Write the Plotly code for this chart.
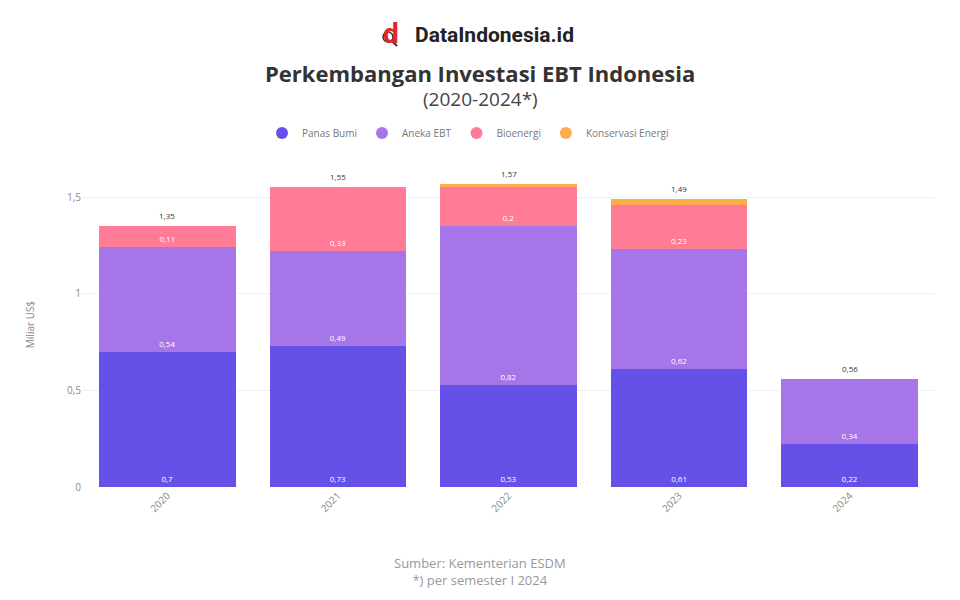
import plotly.graph_objects as go

years = ["2020", "2021", "2022", "2023", "2024"]
panas_bumi = [0.70, 0.73, 0.53, 0.61, 0.22]
aneka_ebt = [0.54, 0.49, 0.82, 0.62, 0.34]
bioenergi = [0.11, 0.33, 0.20, 0.23, 0.0]
konservasi = [0.0, 0.0, 0.02, 0.03, 0.0]
totals = [1.35, 1.55, 1.57, 1.49, 0.56]
tick_vals = [0, 0.5, 1, 1.5]
tick_text = ["0", "0,5", "1", "1,5"]

def fmt(v):
    if v <= 0.05:
        return ""
    s = f"{v:.2f}".rstrip("0").rstrip(".")
    return s.replace(".", ",")

series = [
    ("Panas Bumi", panas_bumi, "#6551E7"),
    ("Aneka EBT", aneka_ebt, "#A675E8"),
    ("Bioenergi", bioenergi, "#FF7B96"),
    ("Konservasi Energi", konservasi, "#FFAA4C"),
]

OFF = 8  # page body margin
L, R = 82 - OFF, 935 - OFF
PLOT_TOP, PLOT_BOT = 162 - OFF, 487 - OFF
H = PLOT_BOT - PLOT_TOP
W = R - L

def py(pix):
    return (PLOT_BOT - (pix - OFF)) / H

def px(pix):
    return ((pix - OFF) - L) / W

fig = go.Figure()
for name, vals, col in series:
    fig.add_trace(go.Bar(
        x=years, y=vals, name=name, marker=dict(color=col, line=dict(width=0)),
        text=[fmt(v) for v in vals], textposition="inside", insidetextanchor="start",
        textangle=0, textfont=dict(color="white", size=8, family="Open Sans"),
        showlegend=False, cliponaxis=False,
    ))
for name, vals, col in series:
    fig.add_trace(go.Scatter(
        x=[None], y=[None], mode="markers", name=name,
        marker=dict(symbol="circle", size=12, color=col), showlegend=True,
    ))

for i, t in enumerate(totals):
    fig.add_annotation(x=i, y=t, text=fmt(t), showarrow=False, yanchor="bottom",
                       yshift=3, font=dict(color="#333333", size=8, family="Open Sans"))

fig.update_layout(
    width=960, height=600,
    barmode="stack", bargap=0.2,
    paper_bgcolor="white", plot_bgcolor="white",
    margin=dict(l=L, r=960 - R, t=PLOT_TOP, b=600 - PLOT_BOT, autoexpand=False),
    font=dict(family="Open Sans", color="#444444"),
    showlegend=True,
    legend=dict(orientation="h", x=px(262), xanchor="left", y=py(133), yanchor="middle",
                font=dict(size=10, color="#777777"), traceorder="normal",
                itemsizing="constant", itemwidth=30),
    xaxis=dict(type="category", categoryorder="array", categoryarray=years,
               range=[-0.5, len(years) - 0.5],
               tickangle=-45, tickfont=dict(size=10, color="#888888"),
               showgrid=False, showline=False, ticks="", automargin=False),
    yaxis=dict(range=[0, H / 193.3], tickvals=tick_vals, ticktext=tick_text,
               tickfont=dict(size=10, color="#888888"), automargin=False,
               gridcolor="#f0f0f0", zeroline=False, showline=False,
               title=dict(text="Miliar US$", font=dict(size=10, color="#888888"), standoff=30)),
)

fig.add_annotation(text="<b>DataIndonesia.id</b>", x=px(413), y=py(35),
                   xref="paper", yref="paper", showarrow=False, xanchor="left",
                   yanchor="middle", font=dict(size=21, color="#222222", family="Roboto"))
fig.add_annotation(text="<b>d</b>", x=px(391), y=py(33), xref="paper", yref="paper",
                   showarrow=False, xanchor="center", yanchor="middle",
                   font=dict(size=28, color="#E8242B", family="Roboto"))
fig.add_shape(type="circle", xref="paper", yref="paper",
              x0=px(383), x1=px(393), y0=py(42), y1=py(32),
              line=dict(color="#333333", width=1.5), fillcolor="white")
fig.add_shape(type="line", xref="paper", yref="paper",
              x0=px(392), x1=px(397), y0=py(41), y1=py(46),
              line=dict(color="#333333", width=2))

fig.add_annotation(text="<b>Perkembangan Investasi EBT Indonesia</b>", x=px(480), y=py(73),
                   xref="paper", yref="paper", showarrow=False, xanchor="center",
                   yanchor="middle", font=dict(size=22, color="#333333", family="Open Sans"))
fig.add_annotation(text="(2020-2024*)", x=px(480), y=py(99), xref="paper", yref="paper",
                   showarrow=False, xanchor="center", yanchor="middle",
                   font=dict(size=19, color="#444444", family="Open Sans"))

fig.add_annotation(text="Sumber: Kementerian ESDM<br>*) per semester I 2024", x=px(480),
                   y=py(571), xref="paper", yref="paper", showarrow=False,
                   xanchor="center", yanchor="middle",
                   font=dict(size=13, color="#999999", family="Open Sans"))

fig.write_html("out.html")
